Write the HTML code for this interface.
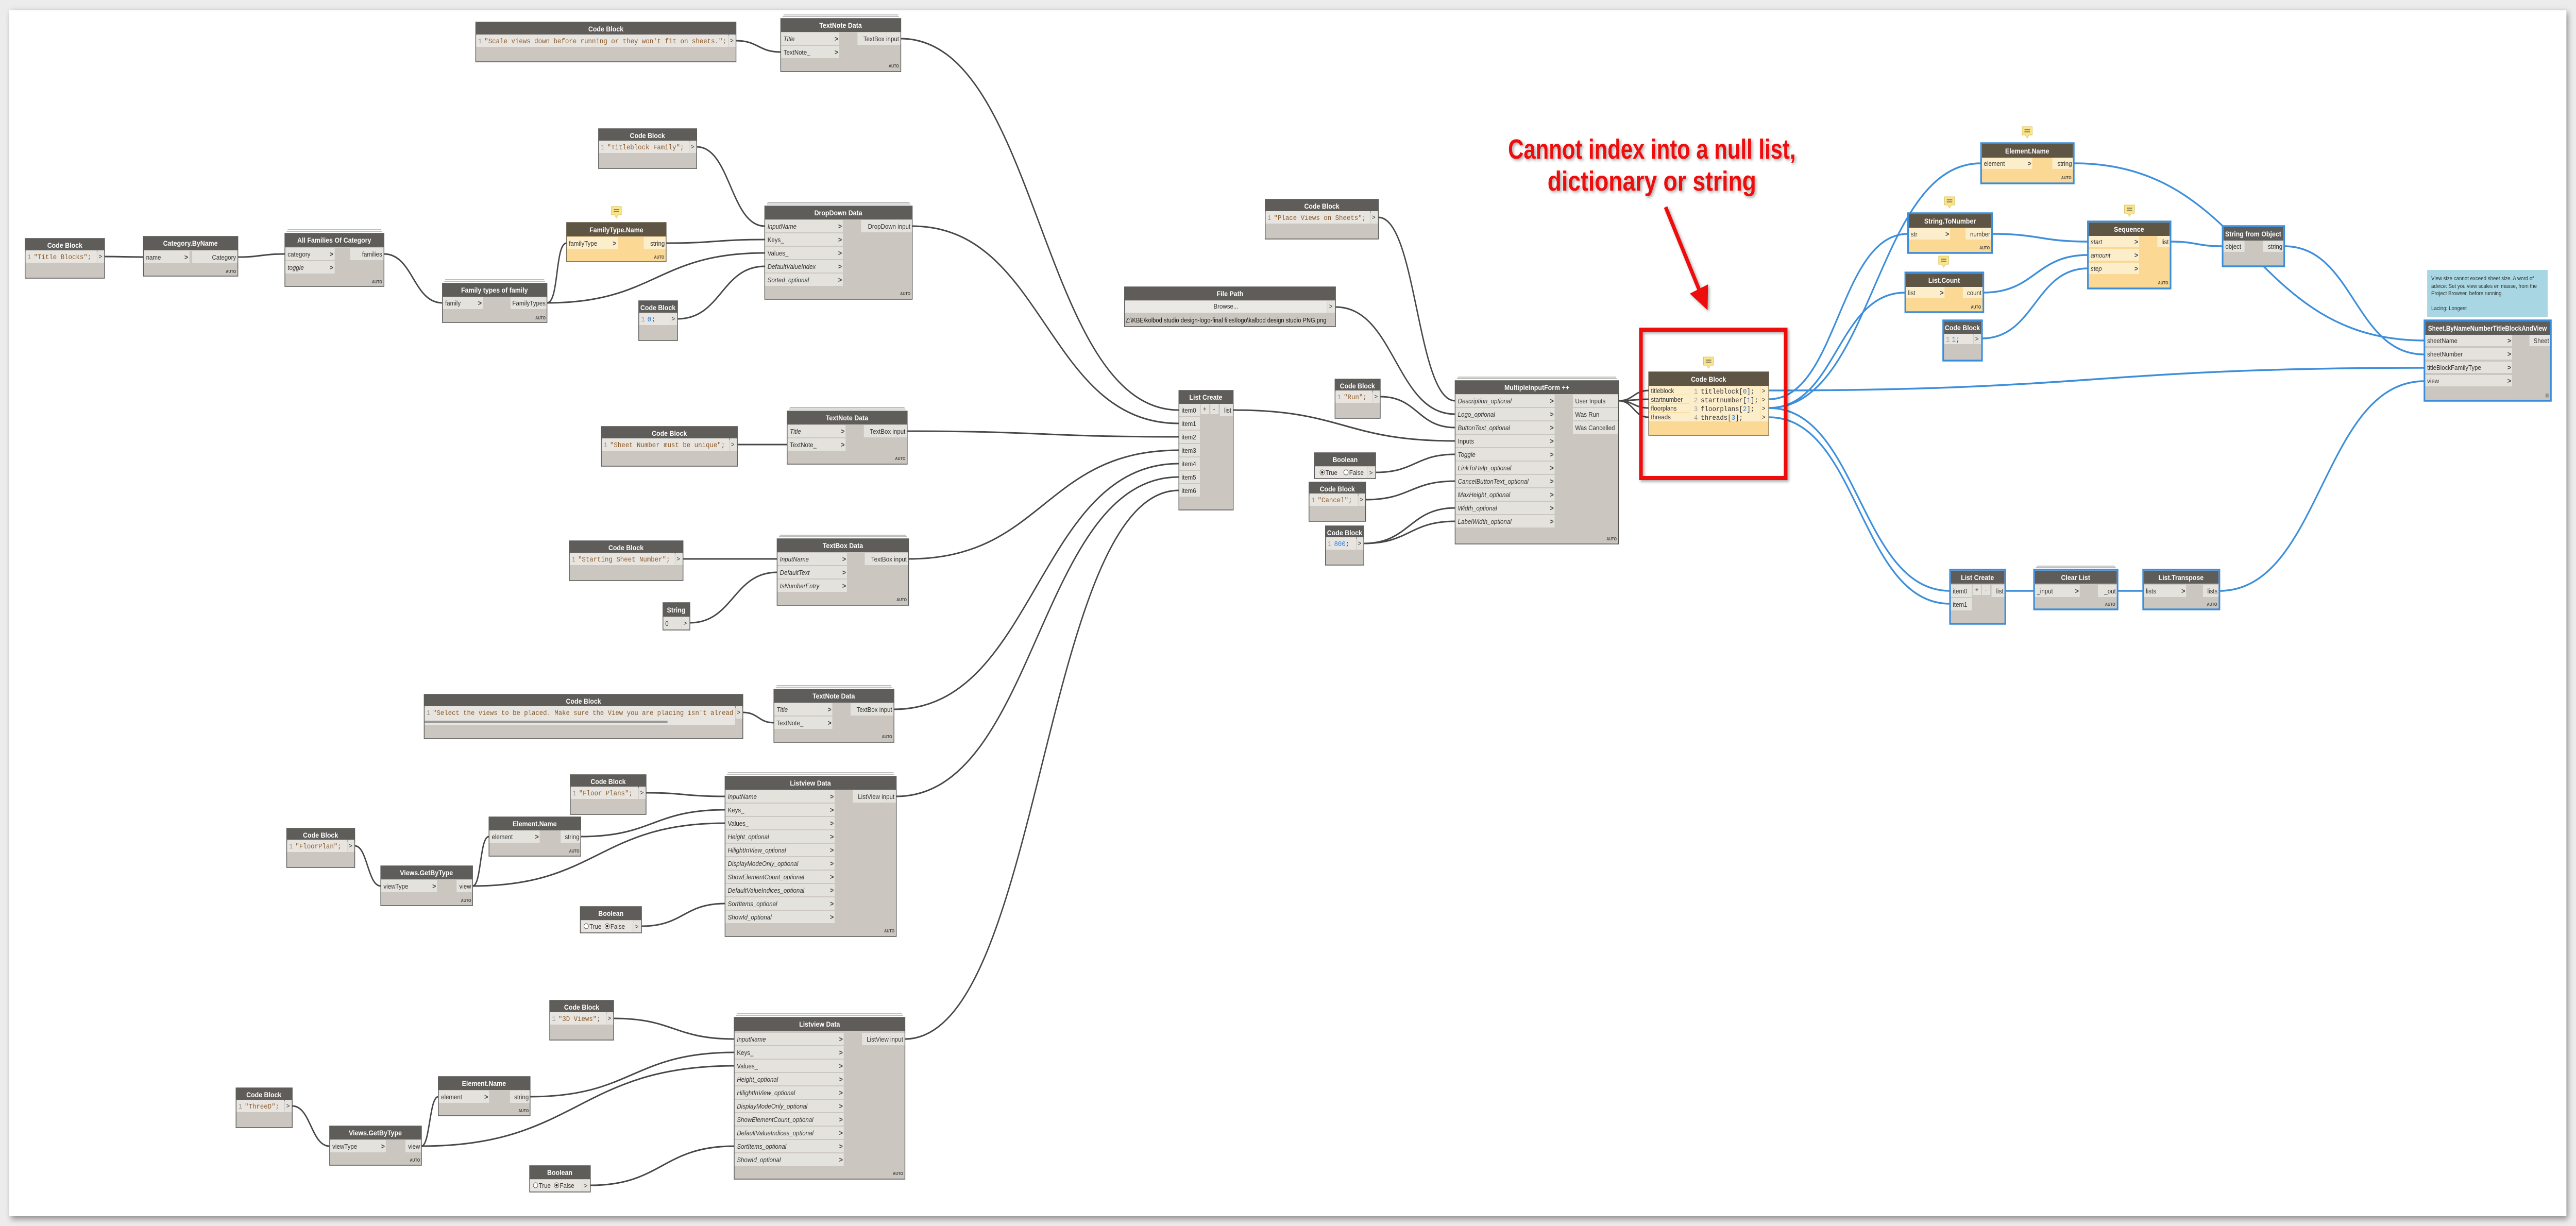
<!DOCTYPE html>
<html><head><meta charset="utf-8">
<style>
html,body{margin:0;padding:0;background:#ececec;overflow:hidden;width:100%;height:100%;}
svg{display:block;width:100vw;height:100vh}
.b{fill:#cbc7c0;stroke:#555;stroke-width:1.5}
.yb{fill:#fbd893;stroke:#6a5f48;stroke-width:1.5}
.sel{stroke:#3a8ddb;stroke-width:3.5}
.h{fill:#5f5d5a}
.yh{fill:#5e5545}
.r{fill:#e4e2dd}
.yr{fill:#fdeecb}
.cr{fill:#e8e5e0}
.t{fill:#fff;font:bold 14px "Liberation Sans",sans-serif;text-anchor:middle}
.p{font:13px "Liberation Sans",sans-serif;fill:#333}
.i{font-style:italic}
.e{text-anchor:end}
.ch{font:bold 14px "Liberation Sans",sans-serif;fill:#444;text-anchor:end}
.a{font:bold 8px "Liberation Sans",sans-serif;fill:#444;text-anchor:end}
.ln{font:14px "Liberation Mono",monospace;fill:#999}
.c{font:14px "Liberation Mono",monospace;fill:#8b5a2b}
.n{font:14px "Liberation Mono",monospace;fill:#2a7de1}
.k{font:14px "Liberation Mono",monospace;fill:#333}
.w{fill:none;stroke:#484848;stroke-width:3}
.u{fill:none;stroke:#3d8fdc;stroke-width:3.5}
.st{fill:none;stroke:#aaa;stroke-width:1.5}
</style></head>
<body>
<svg xmlns="http://www.w3.org/2000/svg" viewBox="0 0 5642 2380" preserveAspectRatio="none">
<defs>
<filter id="sh" x="-5%" y="-5%" width="110%" height="110%"><feGaussianBlur stdDeviation="6"/></filter>
<filter id="ts"><feDropShadow dx="3" dy="3" stdDeviation="3" flood-color="#000" flood-opacity="0.35"/></filter>
</defs>
<rect x="0" y="0" width="5642" height="2380" fill="#ececec"/>
<rect x="24" y="24" width="5600" height="2342" fill="#888" filter="url(#sh)"/>
<rect x="20" y="20" width="5601" height="2341" fill="#fff"/>

<g class="w">
<path d="M229 498 C270 498 272 499 314 499"/>
<path d="M521 499 C572 499 572 493 624 493"/>
<path d="M841 493 C905 493 905 588 969 588"/>
<path d="M1198 588 C1225 588 1215 472 1241 472"/>
<path d="M1198 588 C1436 588 1437 491 1675 491"/>
<path d="M1459 472 C1567 472 1567 465 1675 465"/>
<path d="M1526 285 C1600 285 1600 439 1675 439"/>
<path d="M1484 619 C1580 619 1580 517 1675 517"/>
<path d="M1612 79 C1661 79 1661 101 1710 101"/>
<path d="M1973 75 C2277 75 2277 796 2582 796"/>
<path d="M1998 439 C2290 439 2290 822 2582 822"/>
<path d="M1987 837 C2284 837 2284 848 2582 848"/>
<path d="M1990 1085 C2286 1085 2286 874 2582 874"/>
<path d="M1958 1377 C2270 1377 2270 900 2582 900"/>
<path d="M1963 1546 C2272 1546 2272 926 2582 926"/>
<path d="M1982 2017 C2282 2017 2282 952 2582 952"/>
<path d="M1615 863 C1670 863 1670 863 1724 863"/>
<path d="M1496 1085 C1600 1085 1600 1085 1702 1085"/>
<path d="M1511 1209 C1606 1209 1606 1111 1702 1111"/>
<path d="M1627 1383 C1661 1383 1661 1403 1695 1403"/>
<path d="M1415 1539 C1500 1539 1500 1546 1588 1546"/>
<path d="M1272 1624 C1430 1624 1430 1572 1588 1572"/>
<path d="M1035 1720 C1310 1720 1310 1598 1588 1598"/>
<path d="M1035 1720 C1055 1720 1050 1624 1071 1624"/>
<path d="M777 1642 C805 1642 805 1720 834 1720"/>
<path d="M1405 1798 C1497 1798 1497 1754 1588 1754"/>
<path d="M1344 1977 C1476 1977 1476 2017 1608 2017"/>
<path d="M1161 2129 C1385 2129 1385 2043 1608 2043"/>
<path d="M923 2225 C1265 2225 1265 2069 1608 2069"/>
<path d="M923 2225 C942 2225 940 2129 960 2129"/>
<path d="M640 2147 C681 2147 681 2225 722 2225"/>
<path d="M1293 2301 C1450 2301 1450 2225 1608 2225"/>
<path d="M3019 422 C3103 422 3103 778 3187 778"/>
<path d="M2925 596 C3056 596 3056 804 3187 804"/>
<path d="M3023 770 C3105 770 3105 830 3187 830"/>
<path d="M2701 796 C2944 796 2944 856 3187 856"/>
<path d="M3013 917 C3100 917 3100 882 3187 882"/>
<path d="M2991 970 C3089 970 3089 934 3187 934"/>
<path d="M2987 1055 C3087 1055 3087 986 3187 986"/>
<path d="M2987 1055 C3087 1055 3087 1012 3187 1012"/>
<path d="M3545 778 C3578 778 3578 758 3611 758"/>
<path d="M3545 778 C3578 778 3578 775 3611 775"/>
<path d="M3545 778 C3578 778 3578 792 3611 792"/>
<path d="M3545 778 C3578 778 3578 810 3611 810"/>
</g>
<g class="u">
<path d="M3874 758 C4592 758 4592 714 5310 714"/>
<path d="M3874 775 C4026 775 4026 454 4179 454"/>
<path d="M3874 792 C4023 792 4023 568 4173 568"/>
<path d="M3874 792 C4106 792 4106 317 4339 317"/>
<path d="M3874 792 C4072 792 4072 1147 4271 1147"/>
<path d="M3874 810 C4072 810 4072 1172 4271 1172"/>
<path d="M4363 454 C4468 454 4468 469 4573 469"/>
<path d="M4344 568 C4458 568 4458 495 4573 495"/>
<path d="M4341 657 C4457 657 4457 521 4573 521"/>
<path d="M4754 469 C4811 469 4811 478 4868 478"/>
<path d="M4542 317 C4926 317 4926 661 5310 661"/>
<path d="M5003 478 C5156 478 5156 688 5310 688"/>
<path d="M4392 1147 C4423 1147 4423 1147 4455 1147"/>
<path d="M4638 1147 C4666 1147 4666 1147 4694 1147"/>
<path d="M4861 1147 C5085 1147 5085 740 5310 740"/>
</g>

<g><rect class="b" x="55" y="463" width="174" height="77"/><rect class="h" x="55" y="463" width="174" height="26"/><text class="t" x="142" y="481">Code Block</text>
<rect class="cr" x="56" y="486" width="156" height="24"/><rect class="r" x="213" y="486" width="15" height="24"/><text class="ln" x="60" y="503">1</text><text class="c" x="74" y="503">"Title Blocks";</text><text class="p" x="216" y="502">&gt;</text></g>
<g><rect class="b" x="314" y="459" width="207" height="77"/><rect class="h" x="314" y="459" width="207" height="26"/><text class="t" x="417" y="477">Category.ByName</text>
<rect class="r" x="315" y="487" width="100" height="24"/><text class="p" x="320" y="504">name</text><text class="ch" x="412" y="504">&gt;</text>
<rect class="r" x="421" y="487" width="99" height="24"/><text class="p e" x="517" y="504">Category</text><text class="a" x="517" y="530">AUTO</text></g>
<g><path class="st" d="M628 449 H837 M630 446 H835"/><rect class="b" x="624" y="453" width="217" height="103"/><rect class="h" x="624" y="453" width="217" height="26"/><text class="t" x="732" y="471">All Families Of Category</text>
<rect class="r" x="625" y="481" width="108" height="24"/><text class="p" x="630" y="498">category</text><text class="ch" x="730" y="498">&gt;</text>
<rect class="r" x="625" y="507" width="108" height="24"/><text class="p i" x="630" y="524">toggle</text><text class="ch" x="730" y="524">&gt;</text>
<rect class="r" x="767" y="481" width="73" height="24"/><text class="p e" x="837" y="498">families</text><text class="a" x="837" y="550">AUTO</text></g>
<g><path class="st" d="M973 546 H1194 M975 543 H1192"/><rect class="b" x="969" y="550" width="229" height="76"/><rect class="h" x="969" y="550" width="229" height="26"/><text class="t" x="1083" y="568">Family types of family</text>
<rect class="r" x="970" y="576" width="88" height="24"/><text class="p" x="975" y="593">family</text><text class="ch" x="1055" y="593">&gt;</text>
<rect class="r" x="1118" y="576" width="79" height="24"/><text class="p e" x="1195" y="593">FamilyTypes</text><text class="a" x="1195" y="620">AUTO</text></g>
<g><rect class="yb" x="1241" y="432" width="218" height="76"/><rect class="yh" x="1241" y="432" width="218" height="27"/><text class="t" x="1350" y="451">FamilyType.Name</text>
<rect class="yr" x="1242" y="460" width="112" height="24"/><text class="p" x="1246" y="477">familyType</text><text class="ch" x="1350" y="477">&gt;</text>
<rect class="yr" x="1410" y="460" width="48" height="24"/><text class="p e" x="1456" y="477">string</text><text class="a" x="1455" y="502">AUTO</text>
<path d="M1339 401 h22 v16 h-7 l-4 6 l-4 -6 h-7 z" fill="#fbe58a" stroke="#d8c060"/><path d="M1344 407 h12 M1344 411 h12" stroke="#444" stroke-width="1.2"/></g>
<g><rect class="b" x="1311" y="250" width="215" height="77"/><rect class="h" x="1311" y="250" width="215" height="26"/><text class="t" x="1418" y="268">Code Block</text>
<rect class="cr" x="1312" y="273" width="197" height="24"/><rect class="r" x="1510" y="273" width="15" height="24"/><text class="ln" x="1316" y="290">1</text><text class="c" x="1330" y="290">"Titleblock Family";</text><text class="p" x="1513" y="289">&gt;</text></g>
<g><rect class="b" x="1399" y="584" width="85" height="77"/><rect class="h" x="1399" y="584" width="85" height="26"/><text class="t" x="1441" y="602">Code Block</text>
<rect class="cr" x="1400" y="607" width="67" height="24"/><rect class="r" x="1468" y="607" width="15" height="24"/><text class="ln" x="1404" y="624">1</text><text class="n" x="1418" y="624">0</text><text class="k" x="1427" y="624">;</text><text class="p" x="1471" y="623">&gt;</text></g>
<g><rect class="b" x="1042" y="43" width="570" height="77"/><rect class="h" x="1042" y="43" width="570" height="26"/><text class="t" x="1327" y="61">Code Block</text>
<rect class="cr" x="1043" y="67" width="552" height="24"/><rect class="r" x="1596" y="67" width="15" height="24"/><text class="ln" x="1047" y="84">1</text><text class="c" x="1061" y="84" textLength="530" lengthAdjust="spacingAndGlyphs">"Scale views down before running or they won't fit on sheets.";</text><text class="p" x="1599" y="83">&gt;</text></g>
<g><path class="st" d="M1714 32 H1969 M1716 29 H1967"/><rect class="b" x="1710" y="36" width="263" height="103"/><rect class="h" x="1710" y="36" width="263" height="26"/><text class="t" x="1841" y="54">TextNote Data</text>
<rect class="r" x="1711" y="63" width="127" height="24"/><text class="p i" x="1716" y="80">Title</text><text class="ch" x="1836" y="80">&gt;</text>
<rect class="r" x="1711" y="89" width="127" height="24"/><text class="p" x="1716" y="106">TextNote_</text><text class="ch" x="1836" y="106">&gt;</text>
<rect class="r" x="1878" y="63" width="94" height="24"/><text class="p e" x="1969" y="80">TextBox input</text><text class="a" x="1969" y="131">AUTO</text></g>
<g><path class="st" d="M1679 396 H1994 M1681 393 H1992"/><rect class="b" x="1675" y="400" width="323" height="181"/><rect class="h" x="1675" y="400" width="323" height="26"/><text class="t" x="1836" y="418">DropDown Data</text>
<rect class="r" x="1676" y="427" width="170" height="24"/><text class="p i" x="1681" y="444">InputName</text><text class="ch" x="1844" y="444">&gt;</text>
<rect class="r" x="1676" y="453" width="170" height="24"/><text class="p" x="1681" y="470">Keys_</text><text class="ch" x="1844" y="470">&gt;</text>
<rect class="r" x="1676" y="479" width="170" height="24"/><text class="p" x="1681" y="496">Values_</text><text class="ch" x="1844" y="496">&gt;</text>
<rect class="r" x="1676" y="505" width="170" height="24"/><text class="p i" x="1681" y="522">DefaultValueIndex</text><text class="ch" x="1844" y="522">&gt;</text>
<rect class="r" x="1676" y="531" width="170" height="24"/><text class="p i" x="1681" y="548">Sorted_optional</text><text class="ch" x="1844" y="548">&gt;</text>
<rect class="r" x="1886" y="427" width="111" height="24"/><text class="p e" x="1994" y="444">DropDown input</text><text class="a" x="1994" y="573">AUTO</text></g>
<g><path class="st" d="M1728 794 H1983 M1730 791 H1981"/><rect class="b" x="1724" y="798" width="263" height="103"/><rect class="h" x="1724" y="798" width="263" height="26"/><text class="t" x="1855" y="816">TextNote Data</text>
<rect class="r" x="1725" y="825" width="127" height="24"/><text class="p i" x="1730" y="842">Title</text><text class="ch" x="1850" y="842">&gt;</text>
<rect class="r" x="1725" y="851" width="127" height="24"/><text class="p" x="1730" y="868">TextNote_</text><text class="ch" x="1850" y="868">&gt;</text>
<rect class="r" x="1892" y="825" width="94" height="24"/><text class="p e" x="1983" y="842">TextBox input</text><text class="a" x="1983" y="893">AUTO</text></g>
<g><rect class="b" x="1317" y="828" width="298" height="77"/><rect class="h" x="1317" y="828" width="298" height="26"/><text class="t" x="1466" y="846">Code Block</text>
<rect class="cr" x="1318" y="851" width="279" height="24"/><rect class="r" x="1598" y="851" width="16" height="24"/><text class="ln" x="1322" y="868">1</text><text class="c" x="1336" y="868">"Sheet Number must be unique";</text><text class="p" x="1601" y="867">&gt;</text></g>
<g><path class="st" d="M1706 1042 H1986 M1708 1039 H1984"/><rect class="b" x="1702" y="1046" width="288" height="129"/><rect class="h" x="1702" y="1046" width="288" height="26"/><text class="t" x="1846" y="1064">TextBox Data</text>
<rect class="r" x="1703" y="1073" width="152" height="24"/><text class="p i" x="1708" y="1090">InputName</text><text class="ch" x="1853" y="1090">&gt;</text>
<rect class="r" x="1703" y="1099" width="152" height="24"/><text class="p i" x="1708" y="1116">DefaultText</text><text class="ch" x="1853" y="1116">&gt;</text>
<rect class="r" x="1703" y="1125" width="152" height="24"/><text class="p i" x="1708" y="1142">IsNumberEntry</text><text class="ch" x="1853" y="1142">&gt;</text>
<rect class="r" x="1894" y="1073" width="95" height="24"/><text class="p e" x="1986" y="1090">TextBox input</text><text class="a" x="1986" y="1167">AUTO</text></g>
<g><rect class="b" x="1247" y="1050" width="249" height="77"/><rect class="h" x="1247" y="1050" width="249" height="26"/><text class="t" x="1371" y="1068">Code Block</text>
<rect class="cr" x="1248" y="1073" width="230" height="24"/><rect class="r" x="1479" y="1073" width="16" height="24"/><text class="ln" x="1252" y="1090">1</text><text class="c" x="1266" y="1090">"Starting Sheet Number";</text><text class="p" x="1482" y="1089">&gt;</text></g>
<g><rect class="b" x="1452" y="1170" width="59" height="53"/><rect class="h" x="1452" y="1170" width="59" height="27"/><text class="t" x="1481" y="1189">String</text>
<rect class="r" x="1453" y="1198" width="40" height="24"/><rect class="r" x="1494" y="1198" width="16" height="24"/><text class="p" x="1457" y="1215">0</text><text class="p" x="1497" y="1214">&gt;</text></g>
<g><rect class="b" x="929" y="1348" width="698" height="86"/><rect class="h" x="929" y="1348" width="698" height="26"/><text class="t" x="1278" y="1366">Code Block</text>
<rect class="cr" x="930" y="1371" width="680" height="36"/><rect class="r" x="1611" y="1371" width="15" height="24"/><text class="ln" x="934" y="1388">1</text><text class="c" x="948" y="1388" textLength="658" lengthAdjust="spacingAndGlyphs">"Select the views to be placed. Make sure the View you are placing isn't alread</text><text class="p" x="1614" y="1387">&gt;</text>
<rect x="930" y="1399" width="532" height="5" fill="#999"/></g>
<g><path class="st" d="M1699 1334 H1954 M1701 1331 H1952"/><rect class="b" x="1695" y="1338" width="263" height="103"/><rect class="h" x="1695" y="1338" width="263" height="26"/><text class="t" x="1826" y="1356">TextNote Data</text>
<rect class="r" x="1696" y="1365" width="127" height="24"/><text class="p i" x="1701" y="1382">Title</text><text class="ch" x="1821" y="1382">&gt;</text>
<rect class="r" x="1696" y="1391" width="127" height="24"/><text class="p" x="1701" y="1408">TextNote_</text><text class="ch" x="1821" y="1408">&gt;</text>
<rect class="r" x="1863" y="1365" width="94" height="24"/><text class="p e" x="1954" y="1382">TextBox input</text><text class="a" x="1954" y="1433">AUTO</text></g>
<g><path class="st" d="M1592 1503 H1959 M1594 1500 H1957"/><rect class="b" x="1588" y="1507" width="375" height="311"/><rect class="h" x="1588" y="1507" width="375" height="26"/><text class="t" x="1775" y="1525">Listview Data</text>
<rect class="r" x="1589" y="1534" width="239" height="24"/><text class="p i" x="1594" y="1551">InputName</text><text class="ch" x="1826" y="1551">&gt;</text>
<rect class="r" x="1589" y="1560" width="239" height="24"/><text class="p" x="1594" y="1577">Keys_</text><text class="ch" x="1826" y="1577">&gt;</text>
<rect class="r" x="1589" y="1586" width="239" height="24"/><text class="p" x="1594" y="1603">Values_</text><text class="ch" x="1826" y="1603">&gt;</text>
<rect class="r" x="1589" y="1612" width="239" height="24"/><text class="p i" x="1594" y="1629">Height_optional</text><text class="ch" x="1826" y="1629">&gt;</text>
<rect class="r" x="1589" y="1638" width="239" height="24"/><text class="p i" x="1594" y="1655">HilightInView_optional</text><text class="ch" x="1826" y="1655">&gt;</text>
<rect class="r" x="1589" y="1664" width="239" height="24"/><text class="p i" x="1594" y="1681">DisplayModeOnly_optional</text><text class="ch" x="1826" y="1681">&gt;</text>
<rect class="r" x="1589" y="1690" width="239" height="24"/><text class="p i" x="1594" y="1707">ShowElementCount_optional</text><text class="ch" x="1826" y="1707">&gt;</text>
<rect class="r" x="1589" y="1716" width="239" height="24"/><text class="p i" x="1594" y="1733">DefaultValueIndices_optional</text><text class="ch" x="1826" y="1733">&gt;</text>
<rect class="r" x="1589" y="1742" width="239" height="24"/><text class="p i" x="1594" y="1759">SortItems_optional</text><text class="ch" x="1826" y="1759">&gt;</text>
<rect class="r" x="1589" y="1768" width="239" height="24"/><text class="p i" x="1594" y="1785">ShowId_optional</text><text class="ch" x="1826" y="1785">&gt;</text>
<rect class="r" x="1868" y="1534" width="94" height="24"/><text class="p e" x="1959" y="1551">ListView input</text><text class="a" x="1959" y="1810">AUTO</text></g>
<g><rect class="b" x="1249" y="1504" width="166" height="77"/><rect class="h" x="1249" y="1504" width="166" height="26"/><text class="t" x="1332" y="1522">Code Block</text>
<rect class="cr" x="1250" y="1527" width="148" height="24"/><rect class="r" x="1399" y="1527" width="15" height="24"/><text class="ln" x="1254" y="1544">1</text><text class="c" x="1268" y="1544">"Floor Plans";</text><text class="p" x="1402" y="1543">&gt;</text></g>
<g><rect class="b" x="1071" y="1586" width="201" height="76"/><rect class="h" x="1071" y="1586" width="201" height="26"/><text class="t" x="1171" y="1604">Element.Name</text>
<rect class="r" x="1072" y="1612" width="110" height="24"/><text class="p" x="1077" y="1629">element</text><text class="ch" x="1180" y="1629">&gt;</text>
<rect class="r" x="1228" y="1612" width="43" height="24"/><text class="p e" x="1269" y="1629">string</text><text class="a" x="1269" y="1655">AUTO</text></g>
<g><rect class="b" x="628" y="1608" width="149" height="76"/><rect class="h" x="628" y="1608" width="149" height="26"/><text class="t" x="702" y="1626">Code Block</text>
<rect class="cr" x="629" y="1630" width="131" height="24"/><rect class="r" x="761" y="1630" width="15" height="24"/><text class="ln" x="633" y="1647">1</text><text class="c" x="647" y="1647">"FloorPlan";</text><text class="p" x="764" y="1646">&gt;</text></g>
<g><rect class="b" x="834" y="1681" width="201" height="77"/><rect class="h" x="834" y="1681" width="201" height="26"/><text class="t" x="934" y="1699">Views.GetByType</text>
<rect class="r" x="835" y="1708" width="122" height="24"/><text class="p" x="840" y="1725">viewType</text><text class="ch" x="955" y="1725">&gt;</text>
<rect class="r" x="1000" y="1708" width="34" height="24"/><text class="p e" x="1032" y="1725">view</text><text class="a" x="1032" y="1751">AUTO</text></g>
<g><rect class="b" x="1271" y="1760" width="134" height="51"/><rect class="h" x="1271" y="1760" width="134" height="26"/><text class="t" x="1338" y="1778">Boolean</text>
<rect class="cr" x="1272" y="1787" width="114" height="23"/><rect class="r" x="1387" y="1787" width="17" height="23"/>
<circle cx="1284" cy="1798" r="5" fill="#fff" stroke="#555"/><text class="p" x="1291" y="1803">True</text><circle cx="1330" cy="1798" r="5" fill="#fff" stroke="#555"/><circle cx="1330" cy="1798" r="2.5" fill="#222"/><text class="p" x="1337" y="1803">False</text><text class="p" x="1391" y="1803">&gt;</text></g>
<g><rect class="b" x="1204" y="1942" width="140" height="77"/><rect class="h" x="1204" y="1942" width="140" height="26"/><text class="t" x="1274" y="1960">Code Block</text>
<rect class="cr" x="1205" y="1965" width="122" height="24"/><rect class="r" x="1328" y="1965" width="15" height="24"/><text class="ln" x="1209" y="1982">1</text><text class="c" x="1223" y="1982">"3D Views";</text><text class="p" x="1331" y="1981">&gt;</text></g>
<g><path class="st" d="M1612 1971 H1978 M1614 1968 H1976"/><rect class="b" x="1608" y="1975" width="374" height="314"/><rect class="h" x="1608" y="1975" width="374" height="26"/><text class="t" x="1795" y="1993">Listview Data</text>
<rect class="r" x="1609" y="2005" width="239" height="24"/><text class="p i" x="1614" y="2022">InputName</text><text class="ch" x="1846" y="2022">&gt;</text>
<rect class="r" x="1609" y="2031" width="239" height="24"/><text class="p" x="1614" y="2048">Keys_</text><text class="ch" x="1846" y="2048">&gt;</text>
<rect class="r" x="1609" y="2057" width="239" height="24"/><text class="p" x="1614" y="2074">Values_</text><text class="ch" x="1846" y="2074">&gt;</text>
<rect class="r" x="1609" y="2083" width="239" height="24"/><text class="p i" x="1614" y="2100">Height_optional</text><text class="ch" x="1846" y="2100">&gt;</text>
<rect class="r" x="1609" y="2109" width="239" height="24"/><text class="p i" x="1614" y="2126">HilightInView_optional</text><text class="ch" x="1846" y="2126">&gt;</text>
<rect class="r" x="1609" y="2135" width="239" height="24"/><text class="p i" x="1614" y="2152">DisplayModeOnly_optional</text><text class="ch" x="1846" y="2152">&gt;</text>
<rect class="r" x="1609" y="2161" width="239" height="24"/><text class="p i" x="1614" y="2178">ShowElementCount_optional</text><text class="ch" x="1846" y="2178">&gt;</text>
<rect class="r" x="1609" y="2187" width="239" height="24"/><text class="p i" x="1614" y="2204">DefaultValueIndices_optional</text><text class="ch" x="1846" y="2204">&gt;</text>
<rect class="r" x="1609" y="2213" width="239" height="24"/><text class="p i" x="1614" y="2230">SortItems_optional</text><text class="ch" x="1846" y="2230">&gt;</text>
<rect class="r" x="1609" y="2239" width="239" height="24"/><text class="p i" x="1614" y="2256">ShowId_optional</text><text class="ch" x="1846" y="2256">&gt;</text>
<rect class="r" x="1888" y="2005" width="93" height="24"/><text class="p e" x="1978" y="2022">ListView input</text><text class="a" x="1978" y="2281">AUTO</text></g>
<g><rect class="b" x="960" y="2090" width="201" height="76"/><rect class="h" x="960" y="2090" width="201" height="26"/><text class="t" x="1060" y="2108">Element.Name</text>
<rect class="r" x="961" y="2117" width="110" height="24"/><text class="p" x="966" y="2134">element</text><text class="ch" x="1069" y="2134">&gt;</text>
<rect class="r" x="1117" y="2117" width="43" height="24"/><text class="p e" x="1158" y="2134">string</text><text class="a" x="1158" y="2159">AUTO</text></g>
<g><rect class="b" x="517" y="2112" width="123" height="77"/><rect class="h" x="517" y="2112" width="123" height="26"/><text class="t" x="578" y="2130">Code Block</text>
<rect class="cr" x="518" y="2135" width="105" height="24"/><rect class="r" x="624" y="2135" width="15" height="24"/><text class="ln" x="522" y="2152">1</text><text class="c" x="536" y="2152">"ThreeD";</text><text class="p" x="627" y="2151">&gt;</text></g>
<g><rect class="b" x="722" y="2186" width="201" height="76"/><rect class="h" x="722" y="2186" width="201" height="26"/><text class="t" x="822" y="2204">Views.GetByType</text>
<rect class="r" x="723" y="2213" width="122" height="24"/><text class="p" x="728" y="2230">viewType</text><text class="ch" x="843" y="2230">&gt;</text>
<rect class="r" x="888" y="2213" width="34" height="24"/><text class="p e" x="920" y="2230">view</text><text class="a" x="920" y="2255">AUTO</text></g>
<g><rect class="b" x="1160" y="2263" width="133" height="51"/><rect class="h" x="1160" y="2263" width="133" height="26"/><text class="t" x="1226" y="2281">Boolean</text>
<rect class="cr" x="1161" y="2290" width="113" height="23"/><rect class="r" x="1275" y="2290" width="17" height="23"/>
<circle cx="1173" cy="2301" r="5" fill="#fff" stroke="#555"/><text class="p" x="1180" y="2306">True</text><circle cx="1219" cy="2301" r="5" fill="#fff" stroke="#555"/><circle cx="1219" cy="2301" r="2.5" fill="#222"/><text class="p" x="1226" y="2306">False</text><text class="p" x="1279" y="2306">&gt;</text></g>

<g><rect class="b" x="2771" y="387" width="248" height="77"/><rect class="h" x="2771" y="387" width="248" height="26"/><text class="t" x="2895" y="405">Code Block</text>
<rect class="cr" x="2772" y="410" width="229" height="24"/><rect class="r" x="3002" y="410" width="16" height="24"/><text class="ln" x="2776" y="427">1</text><text class="c" x="2790" y="427">"Place Views on Sheets";</text><text class="p" x="3005" y="426">&gt;</text></g>
<g><rect class="b" x="2463" y="557" width="462" height="77"/><rect class="h" x="2463" y="557" width="462" height="26"/><text class="t" x="2694" y="575">File Path</text>
<rect x="2464" y="584" width="442" height="23" fill="#ebe9e5"/><rect class="r" x="2907" y="584" width="17" height="23"/><text class="p" x="2685" y="599" text-anchor="middle">Browse...</text><text class="p" x="2911" y="599">&gt;</text>
<text x="2465" y="626" style="font:12.5px 'Liberation Sans',sans-serif;fill:#111" textLength="440" lengthAdjust="spacingAndGlyphs">Z:\KBE\kolbod studio design-logo-final files\logo\kalbod design studio PNG.png</text></g>
<g><rect class="b" x="2582" y="758" width="119" height="232"/><rect class="h" x="2582" y="758" width="119" height="26"/><text class="t" x="2641" y="776">List Create</text>
<rect class="r" x="2583" y="784" width="45" height="24"/><text class="p" x="2588" y="801">item0</text>
<rect class="r" x="2583" y="810" width="45" height="24"/><text class="p" x="2588" y="827">item1</text>
<rect class="r" x="2583" y="836" width="45" height="24"/><text class="p" x="2588" y="853">item2</text>
<rect class="r" x="2583" y="862" width="45" height="24"/><text class="p" x="2588" y="879">item3</text>
<rect class="r" x="2583" y="888" width="45" height="24"/><text class="p" x="2588" y="905">item4</text>
<rect class="r" x="2583" y="914" width="45" height="24"/><text class="p" x="2588" y="931">item5</text>
<rect class="r" x="2583" y="940" width="45" height="24"/><text class="p" x="2588" y="957">item6</text>
<rect class="r" x="2630" y="784" width="18" height="20"/><text class="p" x="2635" y="798">+</text><rect class="r" x="2651" y="784" width="18" height="20"/><text class="p" x="2657" y="798">-</text>
<rect class="r" x="2672" y="784" width="28" height="24"/><text class="p e" x="2697" y="801">list</text></g>
<g><rect class="b" x="2924" y="736" width="99" height="76"/><rect class="h" x="2924" y="736" width="99" height="26"/><text class="t" x="2973" y="754">Code Block</text>
<rect class="cr" x="2925" y="758" width="81" height="24"/><rect class="r" x="3007" y="758" width="15" height="24"/><text class="ln" x="2929" y="775">1</text><text class="c" x="2943" y="775">"Run";</text><text class="p" x="3010" y="774">&gt;</text></g>
<g><rect class="b" x="2879" y="879" width="134" height="50"/><rect class="h" x="2879" y="879" width="134" height="26"/><text class="t" x="2946" y="897">Boolean</text>
<rect class="cr" x="2880" y="906" width="114" height="22"/><rect class="r" x="2995" y="906" width="17" height="22"/>
<circle cx="2896" cy="917" r="5" fill="#fff" stroke="#555"/><circle cx="2896" cy="917" r="2.5" fill="#222"/><text class="p" x="2903" y="922">True</text><circle cx="2948" cy="917" r="5" fill="#fff" stroke="#555"/><text class="p" x="2955" y="922">False</text><text class="p" x="2999" y="922">&gt;</text></g>
<g><rect class="b" x="2867" y="936" width="124" height="76"/><rect class="h" x="2867" y="936" width="124" height="26"/><text class="t" x="2929" y="954">Code Block</text>
<rect class="cr" x="2868" y="958" width="106" height="24"/><rect class="r" x="2975" y="958" width="15" height="24"/><text class="ln" x="2872" y="975">1</text><text class="c" x="2886" y="975">"Cancel";</text><text class="p" x="2978" y="974">&gt;</text></g>
<g><rect class="b" x="2903" y="1021" width="84" height="76"/><rect class="h" x="2903" y="1021" width="84" height="26"/><text class="t" x="2945" y="1039">Code Block</text>
<rect class="cr" x="2904" y="1043" width="66" height="24"/><rect class="r" x="2971" y="1043" width="15" height="24"/><text class="ln" x="2908" y="1060">1</text><text class="n" x="2922" y="1060">800</text><text class="k" x="2947" y="1060">;</text><text class="p" x="2974" y="1059">&gt;</text></g>
<g><path class="st" d="M3191 735 H3541 M3193 732 H3539"/><rect class="b" x="3187" y="739" width="358" height="317"/><rect class="h" x="3187" y="739" width="358" height="26"/><text class="t" x="3366" y="757">MultipleInputForm ++</text>
<rect class="r" x="3188" y="766" width="217" height="24"/><text class="p i" x="3193" y="783">Description_optional</text><text class="ch" x="3403" y="783">&gt;</text>
<rect class="r" x="3188" y="792" width="217" height="24"/><text class="p i" x="3193" y="809">Logo_optional</text><text class="ch" x="3403" y="809">&gt;</text>
<rect class="r" x="3188" y="818" width="217" height="24"/><text class="p i" x="3193" y="835">ButtonText_optional</text><text class="ch" x="3403" y="835">&gt;</text>
<rect class="r" x="3188" y="844" width="217" height="24"/><text class="p" x="3193" y="861">Inputs</text><text class="ch" x="3403" y="861">&gt;</text>
<rect class="r" x="3188" y="870" width="217" height="24"/><text class="p i" x="3193" y="887">Toggle</text><text class="ch" x="3403" y="887">&gt;</text>
<rect class="r" x="3188" y="896" width="217" height="24"/><text class="p i" x="3193" y="913">LinkToHelp_optional</text><text class="ch" x="3403" y="913">&gt;</text>
<rect class="r" x="3188" y="922" width="217" height="24"/><text class="p i" x="3193" y="939">CancelButtonText_optional</text><text class="ch" x="3403" y="939">&gt;</text>
<rect class="r" x="3188" y="948" width="217" height="24"/><text class="p i" x="3193" y="965">MaxHeight_optional</text><text class="ch" x="3403" y="965">&gt;</text>
<rect class="r" x="3188" y="974" width="217" height="24"/><text class="p i" x="3193" y="991">Width_optional</text><text class="ch" x="3403" y="991">&gt;</text>
<rect class="r" x="3188" y="1000" width="217" height="24"/><text class="p i" x="3193" y="1017">LabelWidth_optional</text><text class="ch" x="3403" y="1017">&gt;</text>
<rect class="r" x="3445" y="766" width="99" height="24"/><text class="p" x="3450" y="783">User Inputs</text>
<rect class="r" x="3445" y="792" width="99" height="24"/><text class="p" x="3450" y="809">Was Run</text>
<rect class="r" x="3445" y="818" width="99" height="24"/><text class="p" x="3450" y="835">Was Cancelled</text><text class="a" x="3541" y="1049">AUTO</text></g>

<text x="3618" y="308" text-anchor="middle" filter="url(#ts)" style="font:bold 54px 'Liberation Sans',sans-serif;fill:#ee1111" textLength="630" lengthAdjust="spacingAndGlyphs">Cannot index into a null list,</text>
<text x="3618" y="370" text-anchor="middle" filter="url(#ts)" style="font:bold 54px 'Liberation Sans',sans-serif;fill:#ee1111" textLength="457" lengthAdjust="spacingAndGlyphs">dictionary or string</text>
<g filter="url(#ts)"><line x1="3648" y1="402" x2="3725" y2="570" stroke="#ee1111" stroke-width="8"/><polygon points="3740,602 3741,552 3701,570" fill="#ee1111"/></g>
<rect x="3594" y="640" width="317" height="288" fill="none" stroke="#ee1111" stroke-width="8" filter="url(#ts)"/>

<g><rect class="yb" x="3611" y="722" width="263" height="123"/><rect class="yh" x="3611" y="722" width="263" height="27"/><text class="t" x="3742" y="741">Code Block</text>
<rect class="yr" x="3612" y="750" width="87" height="16"/><text class="p" x="3616" y="763">titleblock</text>
<rect class="yr" x="3612" y="767" width="87" height="16"/><text class="p" x="3616" y="780">startnumber</text>
<rect class="yr" x="3612" y="784" width="87" height="16"/><text class="p" x="3616" y="797">floorplans</text>
<rect class="yr" x="3612" y="801" width="87" height="17"/><text class="p" x="3616" y="814">threads</text>
<rect class="yr" x="3700" y="750" width="155" height="68"/><rect class="yr" x="3856" y="750" width="17" height="68"/>
<text class="ln" x="3710" y="764">1</text><text class="k" x="3725" y="764">titleblock[<tspan fill="#2a7de1">0</tspan>];</text>
<text class="ln" x="3710" y="781">2</text><text class="k" x="3725" y="781">startnumber[<tspan fill="#2a7de1">1</tspan>];</text>
<text class="ln" x="3710" y="798">3</text><text class="k" x="3725" y="798">floorplans[<tspan fill="#2a7de1">2</tspan>];</text>
<text class="ln" x="3710" y="815">4</text><text class="k" x="3725" y="815">threads[<tspan fill="#2a7de1">3</tspan>];</text>
<text class="p" x="3859" y="763">&gt;</text><text class="p" x="3859" y="780">&gt;</text><text class="p" x="3859" y="797">&gt;</text><text class="p" x="3859" y="814">&gt;</text>
<path d="M3731 693 h22 v16 h-7 l-4 6 l-4 -6 h-7 z" fill="#fbe58a" stroke="#d8c060"/><path d="M3736 699 h12 M3736 703 h12" stroke="#444" stroke-width="1.2"/></g>

<g><rect class="yb sel" x="4339" y="278" width="203" height="78"/><rect class="yh" x="4341" y="280" width="199" height="26"/><text class="t" x="4440" y="298">Element.Name</text>
<rect class="yr" x="4341" y="306" width="110" height="22"/><text class="p" x="4345" y="322">element</text><text class="ch" x="4449" y="322">&gt;</text>
<rect class="yr" x="4495" y="306" width="45" height="22"/><text class="p e" x="4538" y="322">string</text><text class="a" x="4537" y="348">AUTO</text>
<path d="M4429 246 h22 v16 h-7 l-4 6 l-4 -6 h-7 z" fill="#fbe58a" stroke="#d8c060"/><path d="M4434 252 h12 M4434 256 h12" stroke="#444" stroke-width="1.2"/></g>
<g><rect class="yb sel" x="4179" y="414" width="184" height="77"/><rect class="yh" x="4181" y="416" width="180" height="26"/><text class="t" x="4271" y="434">String.ToNumber</text>
<rect class="yr" x="4181" y="443" width="90" height="22"/><text class="p" x="4185" y="459">str</text><text class="ch" x="4269" y="459">&gt;</text>
<rect class="yr" x="4305" y="443" width="56" height="22"/><text class="p e" x="4359" y="459">number</text><text class="a" x="4358" y="484">AUTO</text>
<path d="M4259 382 h22 v16 h-7 l-4 6 l-4 -6 h-7 z" fill="#fbe58a" stroke="#d8c060"/><path d="M4264 388 h12 M4264 392 h12" stroke="#444" stroke-width="1.2"/></g>
<g><rect class="yb sel" x="4173" y="529" width="171" height="77"/><rect class="yh" x="4175" y="531" width="167" height="26"/><text class="t" x="4258" y="549">List.Count</text>
<rect class="yr" x="4175" y="557" width="84" height="22"/><text class="p" x="4179" y="573">list</text><text class="ch" x="4257" y="573">&gt;</text>
<rect class="yr" x="4299" y="557" width="43" height="22"/><text class="p e" x="4340" y="573">count</text><text class="a" x="4339" y="599">AUTO</text>
<path d="M4246 497 h22 v16 h-7 l-4 6 l-4 -6 h-7 z" fill="#fbe58a" stroke="#d8c060"/><path d="M4251 503 h12 M4251 507 h12" stroke="#444" stroke-width="1.2"/></g>
<g><rect class="b sel" x="4256" y="622" width="85" height="78"/><rect class="h" x="4258" y="624" width="81" height="25"/><text class="t" x="4298" y="641">Code Block</text>
<rect class="cr" x="4258" y="648" width="64" height="20"/><rect class="r" x="4323" y="648" width="16" height="20"/><text class="ln" x="4262" y="663">1</text><text class="n" x="4275" y="663">1</text><text class="k" x="4284" y="663">;</text><text class="p" x="4326" y="662">&gt;</text></g>
<g><rect class="yb sel" x="4573" y="430" width="181" height="130"/><rect class="yh" x="4575" y="432" width="177" height="26"/><text class="t" x="4663" y="450">Sequence</text>
<rect class="yr" x="4575" y="458" width="110" height="22"/><text class="p i" x="4579" y="474">start</text><text class="ch" x="4683" y="474">&gt;</text>
<rect class="yr" x="4575" y="484" width="110" height="22"/><text class="p i" x="4579" y="500">amount</text><text class="ch" x="4683" y="500">&gt;</text>
<rect class="yr" x="4575" y="510" width="110" height="22"/><text class="p i" x="4579" y="526">step</text><text class="ch" x="4683" y="526">&gt;</text>
<rect class="yr" x="4725" y="458" width="27" height="22"/><text class="p e" x="4750" y="474">list</text><text class="a" x="4749" y="552">AUTO</text>
<path d="M4653 398 h22 v16 h-7 l-4 6 l-4 -6 h-7 z" fill="#fbe58a" stroke="#d8c060"/><path d="M4658 404 h12 M4658 408 h12" stroke="#444" stroke-width="1.2"/></g>
<g><rect class="b sel" x="4868" y="439" width="135" height="78"/><rect class="h" x="4870" y="441" width="131" height="26"/><text class="t" x="4935" y="459">String from Object</text>
<rect class="r" x="4870" y="467" width="46" height="22"/><text class="p" x="4874" y="483">object</text>
<rect class="r" x="4956" y="467" width="45" height="22"/><text class="p e" x="4999" y="483">string</text></g>
<g><rect x="5316" y="524" width="264" height="91" fill="#a9d6e3"/>
<text style="font:11px 'Liberation Sans',sans-serif;fill:#333"><tspan x="5325" y="544">View size cannot exceed sheet size. A word of</tspan><tspan x="5325" y="559">advice: Set you view scales en masse, from the</tspan><tspan x="5325" y="573">Project Browser, before running.</tspan><tspan x="5325" y="602">Lacing: Longest</tspan></text></g>
<g><rect class="b sel" x="5310" y="622" width="277" height="156"/><rect class="h" x="5312" y="624" width="273" height="26"/><text class="t" x="5448" y="642" textLength="260" lengthAdjust="spacingAndGlyphs">Sheet.ByNameNumberTitleBlockAndView</text>
<rect class="r" x="5312" y="650" width="190" height="22"/><text class="p" x="5316" y="666">sheetName</text><text class="ch" x="5500" y="666">&gt;</text>
<rect class="r" x="5312" y="676" width="190" height="22"/><text class="p" x="5316" y="692">sheetNumber</text><text class="ch" x="5500" y="692">&gt;</text>
<rect class="r" x="5312" y="702" width="190" height="22"/><text class="p" x="5316" y="718">titleBlockFamilyType</text><text class="ch" x="5500" y="718">&gt;</text>
<rect class="r" x="5312" y="728" width="190" height="22"/><text class="p" x="5316" y="744">view</text><text class="ch" x="5500" y="744">&gt;</text>
<rect class="r" x="5540" y="650" width="45" height="22"/><text class="p e" x="5583" y="666">Sheet</text><text class="a" x="5582" y="770">|||</text></g>
<g><rect class="b sel" x="4271" y="1106" width="121" height="105"/><rect class="h" x="4273" y="1108" width="117" height="25"/><text class="t" x="4331" y="1126">List Create</text>
<rect class="r" x="4273" y="1135" width="46" height="24"/><text class="p" x="4277" y="1152">item0</text>
<rect class="r" x="4273" y="1161" width="46" height="24"/><text class="p" x="4277" y="1178">item1</text>
<rect class="r" x="4321" y="1135" width="18" height="20"/><text class="p" x="4326" y="1149">+</text><rect class="r" x="4341" y="1135" width="18" height="20"/><text class="p" x="4347" y="1149">-</text>
<rect class="r" x="4362" y="1135" width="28" height="24"/><text class="p e" x="4388" y="1152">list</text></g>
<g><path class="st" d="M4459 1102 H4634 M4461 1099 H4632"/><rect class="b sel" x="4455" y="1106" width="183" height="77"/><rect class="h" x="4457" y="1108" width="179" height="25"/><text class="t" x="4546" y="1126">Clear List</text>
<rect class="r" x="4457" y="1135" width="98" height="24"/><text class="p" x="4461" y="1152">_input</text><text class="ch" x="4553" y="1152">&gt;</text>
<rect class="r" x="4595" y="1135" width="41" height="24"/><text class="p e" x="4634" y="1152">_out</text><text class="a" x="4633" y="1176">AUTO</text></g>
<g><rect class="b sel" x="4694" y="1106" width="167" height="77"/><rect class="h" x="4696" y="1108" width="163" height="25"/><text class="t" x="4777" y="1126">List.Transpose</text>
<rect class="r" x="4696" y="1135" width="92" height="24"/><text class="p" x="4700" y="1152">lists</text><text class="ch" x="4786" y="1152">&gt;</text>
<rect class="r" x="4825" y="1135" width="34" height="24"/><text class="p e" x="4857" y="1152">lists</text><text class="a" x="4856" y="1176">AUTO</text></g>
</svg>
</body></html>
